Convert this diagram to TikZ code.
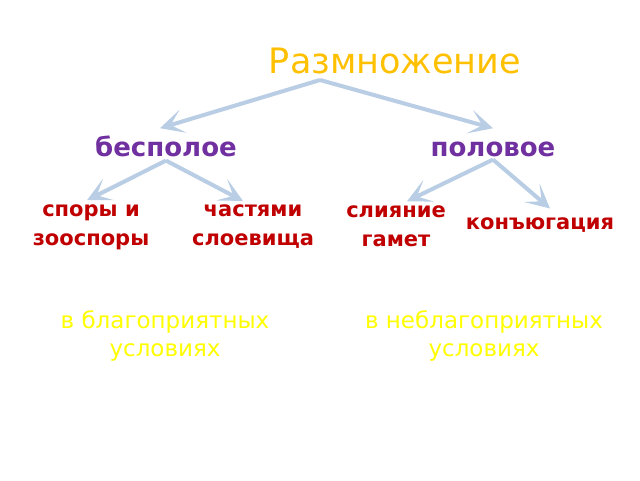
\documentclass[tikz,border=0pt]{standalone}
\usepackage{fontspec}
\setmainfont{DejaVu Sans}
\usetikzlibrary{arrows.meta}
\definecolor{titel}{HTML}{FFC000}
\definecolor{lilla}{HTML}{7030A0}
\definecolor{roed}{HTML}{C00000}
\definecolor{gul}{HTML}{FFFF00}
\definecolor{pil}{HTML}{B9CDE5}
\begin{document}
\begin{tikzpicture}[x=1pt,y=-1pt,
  pile/.style={draw=pil, line width=4pt, -{Stealth[length=24pt,width=24pt,inset=13pt]}},
  gren/.style={text=lilla, font=\fontsize{26}{30}\selectfont\bfseries, inner sep=0pt, anchor=base},
  form/.style={text=roed, font=\fontsize{21}{29}\selectfont\bfseries, align=center, inner sep=0pt},
  vilkaar/.style={text=gul, font=\fontsize{23}{28}\selectfont, align=center, inner sep=0pt}]

  \useasboundingbox[fill=white] (0,0) rectangle (640,480);

  % overskrift
	\node[text=titel, font=\fontsize{35}{40}\selectfont, inner sep=0pt] (titel) at (395,61) {Размножение};
	\coordinate (top) at (320,80);

  % to grene
	\node[gren] (bes) at (166,156) {бесполое};
	\node[gren] (pol) at (493,156) {половое};
	\draw[pile] (top) -- ([shift={(-6,-7)}]bes.north);
	\draw[pile] (top) -- ([shift={(0,-13)}]pol.north);

  % maader
	\node[form] (spor) at (91,227) {споры и\\зооспоры};
	\node[form] (dele) at (253,227) {частями\\слоевища};
	\node[form] (gamet) at (396,226) {слияние\\гамет};
	\node[form] (konj) at (540,225) {конъюгация};
	\draw[pile] ([yshift=-4]bes.south) -- ([shift={(-4,-4)}]spor.north);
	\draw[pile] ([yshift=-4]bes.south) -- ([shift={(-10,-4)}]dele.north);
	\draw[pile] ([yshift=-3]pol.south) -- ([shift={(11,-4)}]gamet.north);
	\draw[pile] ([yshift=-3]pol.south) -- ([shift={(10,-9)}]konj.north);

  % betingelser
	\node[vilkaar] (gode) at (165,336) {в благоприятных\\условиях};
	\node[vilkaar] (daarlige) at (484,336) {в неблагоприятных\\условиях};

\end{tikzpicture}
\end{document}
